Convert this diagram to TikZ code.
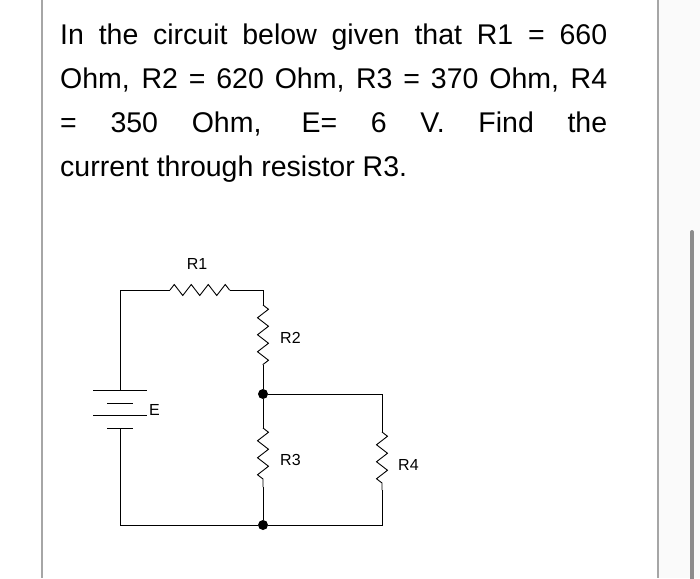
\documentclass[tikz,border=0pt]{standalone}
\usepackage{fontspec}
\setmainfont{Liberation Sans}
\usetikzlibrary{positioning,calc,decorations.pathmorphing}
\tikzset{
wire/.style = {draw, line width=0.9pt},
res/.style = {wire, decorate, decoration={zigzag, segment length=17pt, amplitude=5.5pt}},
dot/.style = {circle, fill=black, inner sep=0pt, minimum size=10pt},
lbl/.style = {font=\fontsize{16}{18}\selectfont, inner sep=1pt},
plate/.style = {line width=1pt}
}
\begin{document}
\begin{tikzpicture}[x=1pt,y=-1pt]
		\useasboundingbox (0,0) rectangle (700,578);
		\fill[white] (0,0) rectangle (700,578);
		\fill[black!2] (658,0) rectangle (700,578);
		\draw[black!35, line width=1.2pt] (42,0) -- (42,578);
		\draw[black!35, line width=1.2pt] (658,0) -- (658,578);
		\draw[black!45, line width=4pt, line cap=round] (692,232) -- (692,580);

		% question text
		\node[anchor=north west, text width=547pt, align=justify, inner sep=0pt,
		font=\fontsize{28.5}{44}\selectfont] (question) at (60,24)
		{In the circuit below given that R1 = 660\linebreak Ohm, R2 = 620 Ohm, R3 = 370 Ohm, R4\linebreak = 350 Ohm, E= 6 V. Find the\linebreak current through resistor R3.};

		% corners and junctions
		\coordinate (tl) at (120,290);
		\coordinate (tr) at (263,290);
		\coordinate (r1a) at (170,290);
		\coordinate (r1b) at (230,290);
		\coordinate (r2a) at (263,305);
		\coordinate (r2b) at (263,365);
		\node[dot] (top) at (263,394) {};
		\coordinate (rt) at (382,394);
		\coordinate (r3a) at (263,428);
		\coordinate (r3b) at (263,487);
		\coordinate (r4a) at (382,432);
		\coordinate (r4b) at (382,490);
		\node[dot] (bot) at (263,525) {};
		\coordinate (bl) at (120,525);
		\coordinate (br) at (382,525);
		\coordinate (bp) at (120,390);
		\coordinate (bn) at (120,428);

		% battery
		\draw[plate] ($(bp)+(-27,0)$) -- ($(bp)+(27,0)$);
		\draw[plate] ($(bp)+(-13,13)$) -- ($(bp)+(13,13)$);
		\draw[plate] ($(bp)+(-27,25)$) -- ($(bp)+(27,25)$);
		\draw[plate] ($(bn)+(-13,0)$) -- ($(bn)+(13,0)$);
		\node[lbl, anchor=west] (E) at ($(bp)+(28,20)$) {E};

		% wires
		\draw[wire] (bp) -- (tl) -- (r1a);
		\draw[res] (r1a) -- (r1b);
		\draw[wire] (r1b) -- (tr) -- (r2a);
		\draw[res] (r2a) -- (r2b);
		\draw[wire] (r2b) -- (top) -- (r3a);
		\draw[res] (r3a) -- (r3b);
		\draw[wire] (r3b) -- (bot);
		\draw[wire] (top) -- (rt) -- (r4a);
		\draw[res] (r4a) -- (r4b);
		\draw[wire] (r4b) -- (br) -- (bot) -- (bl) -- (bn);

		% labels
		\node[lbl] (R1) at (197,264) {R1};
		\node[lbl, anchor=west] at (279,338) {R2};
		\node[lbl, anchor=west] at (279,460) {R3};
		\node[lbl, anchor=west] at (397,465) {R4};
\end{tikzpicture}
\end{document}
